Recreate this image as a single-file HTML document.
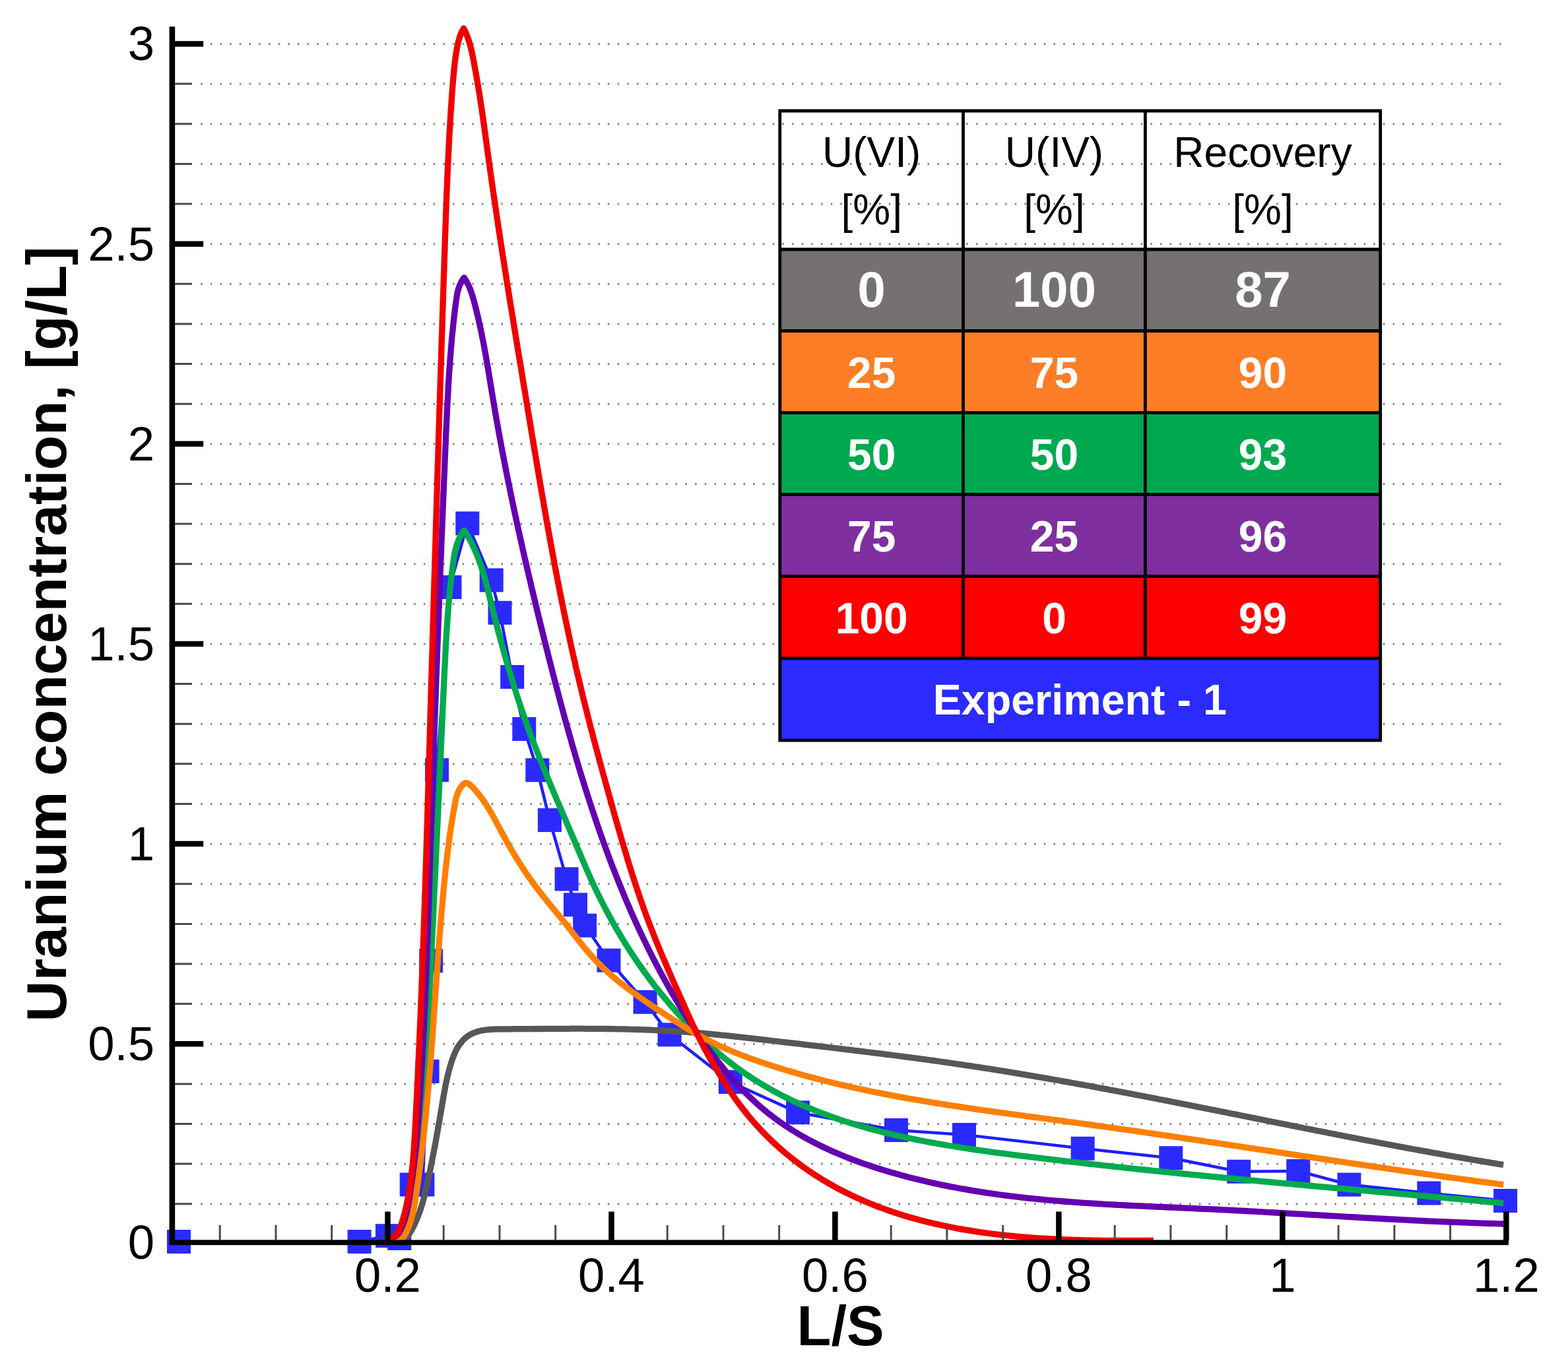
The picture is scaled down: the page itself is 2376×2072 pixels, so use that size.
<!DOCTYPE html>
<html><head><meta charset="utf-8"><title>Uranium concentration vs L/S</title>
<style>html,body{margin:0;padding:0;background:#fff;}body{width:2376px;height:2072px;overflow:hidden;}svg{display:block;}text{font-family:"Liberation Sans",Arial,sans-serif;}</style>
</head><body>
<svg xmlns="http://www.w3.org/2000/svg" width="2376" height="2072" viewBox="0 0 2376 2072">
<rect width="2376" height="2072" fill="#fff"/>
<path d="M304.1 1824.8H2274.5M304.1 1764.1H2274.5M304.1 1703.5H2274.5M304.1 1642.9H2274.5M304.1 1582.2H2274.5M304.1 1521.6H2274.5M304.1 1461H2274.5M304.1 1400.4H2274.5M304.1 1339.7H2274.5M304.1 1279.1H2274.5M304.1 1218.5H2274.5M304.1 1157.8H2274.5M304.1 1097.2H2274.5M304.1 1036.6H2274.5M304.1 976H2274.5M304.1 915.3H2274.5M304.1 854.7H2274.5M304.1 794.1H2274.5M304.1 733.4H2274.5M304.1 672.8H2274.5M304.1 612.2H2274.5M304.1 551.5H2274.5M304.1 490.9H2274.5M304.1 430.3H2274.5M304.1 369.7H2274.5M304.1 309H2274.5M304.1 248.4H2274.5M304.1 187.8H2274.5M304.1 127.1H2274.5M304.1 66.5H2274.5" stroke="#858585" stroke-width="3" stroke-dasharray="2.6 12.0860" fill="none"/>
<rect x="1181.8" y="378" width="909.9" height="123.5" fill="#767171"/>
<rect x="1181.8" y="501.5" width="909.9" height="124.1" fill="#fd7e26"/>
<rect x="1181.8" y="625.6" width="909.9" height="123.7" fill="#00a94f"/>
<rect x="1181.8" y="749.3" width="909.9" height="124" fill="#7f2fa0"/>
<rect x="1181.8" y="873.3" width="909.9" height="124.5" fill="#ff0000"/>
<rect x="1181.8" y="997.8" width="909.9" height="124.4" fill="#2b2bff"/>
<path d="M1179.8 168H2093.7M1179.8 378H2093.7M1179.8 501.5H2093.7M1179.8 625.6H2093.7M1179.8 749.3H2093.7M1179.8 873.3H2093.7M1179.8 997.8H2093.7M1179.8 1122.2H2093.7M1181.8 166V1124.2M1459.5 168V997.8M1735.4 168V997.8M2091.7 166V1124.2" stroke="#000" stroke-width="4.8" fill="none"/>
<text x="1320.7" y="253.4" font-size="64" text-anchor="middle" fill="#000">U(VI)</text>
<text x="1320.7" y="339.6" font-size="64" text-anchor="middle" fill="#000">[%]</text>
<text x="1597.5" y="253.4" font-size="64" text-anchor="middle" fill="#000">U(IV)</text>
<text x="1597.5" y="339.6" font-size="64" text-anchor="middle" fill="#000">[%]</text>
<text x="1913.5" y="253.4" font-size="64" text-anchor="middle" fill="#000">Recovery</text>
<text x="1913.5" y="339.6" font-size="64" text-anchor="middle" fill="#000">[%]</text>
<text x="1320.7" y="465" font-size="76" font-weight="bold" text-anchor="middle" fill="#fff">0</text>
<text x="1597.5" y="465" font-size="76" font-weight="bold" text-anchor="middle" fill="#fff">100</text>
<text x="1913.5" y="465" font-size="76" font-weight="bold" text-anchor="middle" fill="#fff">87</text>
<text x="1320.7" y="588.4" font-size="66" font-weight="bold" text-anchor="middle" fill="#fff">25</text>
<text x="1597.5" y="588.4" font-size="66" font-weight="bold" text-anchor="middle" fill="#fff">75</text>
<text x="1913.5" y="588.4" font-size="66" font-weight="bold" text-anchor="middle" fill="#fff">90</text>
<text x="1320.7" y="712.3" font-size="66" font-weight="bold" text-anchor="middle" fill="#fff">50</text>
<text x="1597.5" y="712.3" font-size="66" font-weight="bold" text-anchor="middle" fill="#fff">50</text>
<text x="1913.5" y="712.3" font-size="66" font-weight="bold" text-anchor="middle" fill="#fff">93</text>
<text x="1320.7" y="836.1" font-size="66" font-weight="bold" text-anchor="middle" fill="#fff">75</text>
<text x="1597.5" y="836.1" font-size="66" font-weight="bold" text-anchor="middle" fill="#fff">25</text>
<text x="1913.5" y="836.1" font-size="66" font-weight="bold" text-anchor="middle" fill="#fff">96</text>
<text x="1320.7" y="960.4" font-size="66" font-weight="bold" text-anchor="middle" fill="#fff">100</text>
<text x="1597.5" y="960.4" font-size="66" font-weight="bold" text-anchor="middle" fill="#fff">0</text>
<text x="1913.5" y="960.4" font-size="66" font-weight="bold" text-anchor="middle" fill="#fff">99</text>
<text x="1636.3" y="1083.3" font-size="64.6" font-weight="bold" text-anchor="middle" fill="#fff">Experiment - 1</text>
<path d="M271 1882 L544.6 1882 L587 1873.2 L605.2 1877 L623.7 1795.5 L640.4 1795.5 L647.6 1623.9 L653.2 1456.3 L662.1 1167.2 L681.5 890 L708.3 793.3 L744.7 879.4 L757.5 928.8 L776.2 1026 L794.3 1105 L814.3 1167.3 L832.9 1243.1 L858.6 1332.4 L872 1371.3 L886.2 1402.8 L922.5 1455.7 L977.6 1518.8 L1014.6 1568.3 L1106.8 1640 L1209.1 1686.3 L1358 1713 L1461 1720 L1640.7 1740.8 L1774.3 1755.2 L1877.2 1775.8 L1967.3 1775 L2044.4 1795.6 L2165.3 1808.5 L2281.1 1820" stroke="#1e1eff" stroke-width="4.6" fill="none" stroke-linejoin="round"/>
<g fill="#2a2aff">
<rect x="253" y="1864" width="36" height="36"/>
<rect x="526.6" y="1864" width="36" height="36"/>
<rect x="569" y="1855.2" width="36" height="36"/>
<rect x="587.2" y="1859" width="36" height="36"/>
<rect x="605.7" y="1777.5" width="36" height="36"/>
<rect x="622.4" y="1777.5" width="36" height="36"/>
<rect x="629.6" y="1605.9" width="36" height="36"/>
<rect x="635.2" y="1438.3" width="36" height="36"/>
<rect x="644.1" y="1149.2" width="36" height="36"/>
<rect x="663.5" y="872" width="36" height="36"/>
<rect x="690.3" y="775.3" width="36" height="36"/>
<rect x="726.7" y="861.4" width="36" height="36"/>
<rect x="739.5" y="910.8" width="36" height="36"/>
<rect x="758.2" y="1008" width="36" height="36"/>
<rect x="776.3" y="1087" width="36" height="36"/>
<rect x="796.3" y="1149.3" width="36" height="36"/>
<rect x="814.9" y="1225.1" width="36" height="36"/>
<rect x="840.6" y="1314.4" width="36" height="36"/>
<rect x="854" y="1353.3" width="36" height="36"/>
<rect x="868.2" y="1384.8" width="36" height="36"/>
<rect x="904.5" y="1437.7" width="36" height="36"/>
<rect x="959.6" y="1500.8" width="36" height="36"/>
<rect x="996.6" y="1550.3" width="36" height="36"/>
<rect x="1088.8" y="1622" width="36" height="36"/>
<rect x="1191.1" y="1668.3" width="36" height="36"/>
<rect x="1340" y="1695" width="36" height="36"/>
<rect x="1443" y="1702" width="36" height="36"/>
<rect x="1622.7" y="1722.8" width="36" height="36"/>
<rect x="1756.3" y="1737.2" width="36" height="36"/>
<rect x="1859.2" y="1757.8" width="36" height="36"/>
<rect x="1949.3" y="1757" width="36" height="36"/>
<rect x="2026.4" y="1777.6" width="36" height="36"/>
<rect x="2147.3" y="1790.5" width="36" height="36"/>
<rect x="2263.1" y="1802" width="36" height="36"/>
</g>
<defs><clipPath id="pc"><rect x="0" y="0" width="2376" height="1885"/></clipPath></defs>
<g clip-path="url(#pc)">
<path d="M592 1884.5 L597.1 1884.7 L601.7 1884.1 L605.9 1882.8 L609.6 1880.8 L613 1878.4 L616 1875.4 L618.8 1872.1 L621.3 1868.5 L623.6 1864.7 L625.7 1860.7 L627.7 1856.6 L629.6 1852.6 L631.4 1848.4 L633.1 1844.3 L634.7 1840 L636.3 1835.8 L637.7 1831.5 L639.1 1827.2 L640.3 1822.9 L641.6 1818.5 L642.7 1814.1 L643.9 1809.7 L644.9 1805.3 L646 1800.9 L647 1796.5 L647.9 1792 L648.9 1787.6 L649.8 1783.2 L650.7 1778.7 L651.7 1774.3 L652.6 1769.9 L653.4 1765.5 L654.3 1761.1 L655.2 1756.6 L656 1752.2 L656.9 1747.8 L657.7 1743.4 L658.6 1739 L659.4 1734.6 L660.2 1730.2 L661 1725.7 L661.8 1721.3 L662.6 1716.9 L663.4 1712.5 L664.1 1708.1 L664.9 1703.7 L665.7 1699.3 L666.4 1694.9 L667.2 1690.5 L668 1686.1 L668.7 1681.7 L669.5 1677.3 L670.2 1672.8 L671 1668.4 L671.7 1664 L672.5 1659.6 L673.3 1655.2 L674.1 1650.8 L674.9 1646.4 L675.8 1641.9 L676.8 1637.5 L677.7 1633.1 L678.8 1628.7 L679.9 1624.3 L681.1 1619.9 L682.3 1615.5 L683.7 1611.1 L685.1 1606.7 L686.7 1602.3 L688.4 1598 L690.2 1593.8 L692.2 1589.7 L694.5 1585.8 L697 1582.1 L699.8 1578.6 L702.8 1575.4 L706 1572.6 L709.4 1570 L713 1567.9 L716.8 1566 L720.7 1564.5 L724.8 1563.2 L729 1562.2 L733.3 1561.5 L737.6 1560.9 L742.1 1560.5 L746.6 1560.2 L751.2 1560 L755.8 1559.9 L760.4 1559.8 L765 1559.8 L769.6 1559.8 L774.2 1559.8 L778.8 1559.7 L783.4 1559.7 L788 1559.7 L792.6 1559.6 L797.2 1559.6 L801.8 1559.6 L806.4 1559.6 L810.9 1559.5 L815.5 1559.5 L820 1559.5 L824.6 1559.4 L829.1 1559.4 L833.7 1559.4 L838.2 1559.3 L842.7 1559.3 L847.3 1559.3 L851.8 1559.3 L856.3 1559.3 L860.8 1559.3 L865.3 1559.2 L869.8 1559.2 L874.4 1559.2 L878.9 1559.2 L883.4 1559.2 L887.9 1559.3 L892.3 1559.3 L896.8 1559.3 L901.3 1559.3 L905.8 1559.4 L910.3 1559.4 L914.8 1559.4 L919.2 1559.5 L923.7 1559.5 L928.2 1559.6 L932.7 1559.7 L937.1 1559.8 L941.6 1559.8 L946.1 1559.9 L950.6 1560 L955 1560.2 L959.5 1560.3 L964 1560.4 L968.4 1560.5 L972.9 1560.7 L977.4 1560.8 L981.8 1561 L986.3 1561.2 L990.8 1561.4 L995.2 1561.6 L999.7 1561.8 L1004.2 1562 L1008.6 1562.2 L1013.1 1562.5 L1017.6 1562.7 L1022 1563 L1026.5 1563.3 L1031 1563.6 L1035.5 1563.9 L1039.9 1564.2 L1044.4 1564.5 L1048.9 1564.9 L1053.4 1565.2 L1057.9 1565.6 L1062.3 1566 L1066.8 1566.4 L1071.3 1566.8 L1075.8 1567.2 L1080.3 1567.6 L1084.8 1568.1 L1089.3 1568.5 L1093.8 1569 L1098.3 1569.4 L1102.8 1569.9 L1107.3 1570.4 L1111.8 1570.8 L1116.3 1571.3 L1120.7 1571.8 L1125.2 1572.3 L1129.7 1572.8 L1134.2 1573.3 L1138.7 1573.8 L1143.2 1574.3 L1147.7 1574.9 L1152.2 1575.4 L1156.7 1575.9 L1161.2 1576.4 L1165.7 1577 L1170.2 1577.5 L1174.7 1578 L1179.2 1578.5 L1183.6 1579.1 L1188.1 1579.6 L1192.6 1580.1 L1197.1 1580.6 L1201.6 1581.2 L1206.1 1581.7 L1210.5 1582.2 L1215 1582.7 L1219.5 1583.3 L1224 1583.8 L1228.4 1584.3 L1232.9 1584.8 L1237.4 1585.4 L1241.9 1585.9 L1246.3 1586.4 L1250.8 1586.9 L1255.3 1587.5 L1259.7 1588 L1264.2 1588.5 L1268.7 1589.1 L1273.1 1589.6 L1277.6 1590.1 L1282 1590.7 L1286.5 1591.2 L1291 1591.7 L1295.4 1592.3 L1299.9 1592.8 L1304.3 1593.4 L1308.8 1593.9 L1313.3 1594.5 L1317.7 1595 L1322.2 1595.6 L1326.6 1596.1 L1331.1 1596.7 L1335.5 1597.2 L1340 1597.8 L1344.4 1598.3 L1348.9 1598.9 L1353.3 1599.5 L1357.8 1600 L1362.2 1600.6 L1366.7 1601.2 L1371.1 1601.8 L1375.6 1602.4 L1380 1602.9 L1384.4 1603.5 L1388.9 1604.1 L1393.3 1604.7 L1397.8 1605.3 L1402.2 1605.9 L1406.7 1606.5 L1411.1 1607.1 L1415.5 1607.7 L1420 1608.4 L1424.4 1609 L1428.9 1609.6 L1433.3 1610.2 L1437.7 1610.9 L1442.2 1611.5 L1446.6 1612.1 L1451 1612.8 L1455.5 1613.4 L1459.9 1614.1 L1464.3 1614.8 L1468.8 1615.4 L1473.2 1616.1 L1477.6 1616.8 L1482.1 1617.4 L1486.5 1618.1 L1491 1618.8 L1495.4 1619.5 L1499.8 1620.2 L1504.2 1620.9 L1508.7 1621.6 L1513.1 1622.3 L1517.5 1623 L1522 1623.7 L1526.4 1624.4 L1530.8 1625.2 L1535.3 1625.9 L1539.7 1626.6 L1544.1 1627.4 L1548.6 1628.1 L1553 1628.8 L1557.4 1629.6 L1561.8 1630.3 L1566.3 1631.1 L1570.7 1631.8 L1575.1 1632.6 L1579.6 1633.4 L1584 1634.1 L1588.4 1634.9 L1592.8 1635.7 L1597.3 1636.5 L1601.7 1637.2 L1606.1 1638 L1610.5 1638.8 L1615 1639.6 L1619.4 1640.4 L1623.8 1641.2 L1628.2 1642 L1632.7 1642.8 L1637.1 1643.6 L1641.5 1644.4 L1645.9 1645.2 L1650.4 1646 L1654.8 1646.8 L1659.2 1647.6 L1663.6 1648.5 L1668.1 1649.3 L1672.5 1650.1 L1676.9 1650.9 L1681.3 1651.8 L1685.8 1652.6 L1690.2 1653.4 L1694.6 1654.3 L1699 1655.1 L1703.4 1655.9 L1707.9 1656.8 L1712.3 1657.6 L1716.7 1658.5 L1721.1 1659.3 L1725.6 1660.2 L1730 1661 L1734.4 1661.9 L1738.8 1662.7 L1743.2 1663.6 L1747.7 1664.4 L1752.1 1665.3 L1756.5 1666.2 L1760.9 1667 L1765.3 1667.9 L1769.8 1668.7 L1774.2 1669.6 L1778.6 1670.5 L1783 1671.4 L1787.4 1672.2 L1791.9 1673.1 L1796.3 1674 L1800.7 1674.8 L1805.1 1675.7 L1809.5 1676.6 L1813.9 1677.5 L1818.4 1678.4 L1822.8 1679.2 L1827.2 1680.1 L1831.6 1681 L1836 1681.9 L1840.5 1682.8 L1844.9 1683.6 L1849.3 1684.5 L1853.7 1685.4 L1858.1 1686.3 L1862.6 1687.2 L1867 1688.1 L1871.4 1688.9 L1875.8 1689.8 L1880.2 1690.7 L1884.6 1691.6 L1889.1 1692.5 L1893.5 1693.4 L1897.9 1694.3 L1902.3 1695.1 L1906.7 1696 L1911.2 1696.9 L1915.6 1697.8 L1920 1698.7 L1924.4 1699.6 L1928.8 1700.5 L1933.2 1701.3 L1937.7 1702.2 L1942.1 1703.1 L1946.5 1704 L1950.9 1704.9 L1955.3 1705.8 L1959.8 1706.6 L1964.2 1707.5 L1968.6 1708.4 L1973 1709.3 L1977.4 1710.2 L1981.8 1711 L1986.3 1711.9 L1990.7 1712.8 L1995.1 1713.7 L1999.5 1714.5 L2003.9 1715.4 L2008.4 1716.3 L2012.8 1717.2 L2017.2 1718 L2021.6 1718.9 L2026 1719.8 L2030.5 1720.6 L2034.9 1721.5 L2039.3 1722.4 L2043.7 1723.2 L2048.1 1724.1 L2052.6 1724.9 L2057 1725.8 L2061.4 1726.6 L2065.8 1727.5 L2070.2 1728.3 L2074.7 1729.2 L2079.1 1730 L2083.5 1730.9 L2087.9 1731.7 L2092.3 1732.6 L2096.8 1733.4 L2101.2 1734.3 L2105.6 1735.1 L2110 1735.9 L2114.5 1736.8 L2118.9 1737.6 L2123.3 1738.4 L2127.7 1739.2 L2132.1 1740.1 L2136.6 1740.9 L2141 1741.7 L2145.4 1742.5 L2149.8 1743.3 L2154.3 1744.1 L2158.7 1744.9 L2163.1 1745.7 L2167.5 1746.5 L2172 1747.3 L2176.4 1748.1 L2180.8 1748.9 L2185.2 1749.7 L2189.6 1750.5 L2194.1 1751.3 L2198.5 1752.1 L2202.9 1752.8 L2207.4 1753.6 L2211.8 1754.4 L2216.2 1755.1 L2220.6 1755.9 L2225.1 1756.7 L2229.5 1757.4 L2233.9 1758.2 L2238.3 1758.9 L2242.8 1759.7 L2247.2 1760.4 L2251.6 1761.1 L2256.1 1761.9 L2260.5 1762.6 L2264.9 1763.3 L2269.3 1764.1 L2273.8 1764.8 L2278.2 1765.5" stroke="#575757" stroke-width="9.3" fill="none" stroke-linejoin="round" stroke-linecap="butt"/>
<path d="M583 1884.5 L589.3 1884.1 L594.9 1882.5 L599.8 1879.8 L604.1 1876.3 L607.9 1872.2 L611.2 1867.8 L614.1 1863 L616.6 1858.1 L618.7 1853 L620.6 1847.7 L622.1 1842.2 L623.4 1836.6 L624.6 1830.9 L625.5 1825.1 L626.4 1819.3 L627.2 1813.5 L628 1807.6 L628.7 1801.7 L629.4 1795.9 L630.1 1790 L630.8 1784.2 L631.5 1778.4 L632.1 1772.5 L632.8 1766.7 L633.4 1760.9 L634 1755.1 L634.6 1749.3 L635.2 1743.5 L635.8 1737.6 L636.3 1731.8 L636.8 1726 L637.4 1720.2 L637.9 1714.5 L638.4 1708.7 L638.9 1702.9 L639.3 1697.1 L639.8 1691.3 L640.2 1685.5 L640.7 1679.7 L641.1 1674 L641.5 1668.2 L642 1662.4 L642.4 1656.7 L642.7 1650.9 L643.1 1645.1 L643.5 1639.4 L643.9 1633.6 L644.2 1627.8 L644.6 1622.1 L644.9 1616.3 L645.3 1610.5 L645.6 1604.8 L645.9 1599 L646.3 1593.3 L646.6 1587.5 L646.9 1581.7 L647.2 1576 L647.5 1570.2 L647.8 1564.5 L648.1 1558.7 L648.4 1553 L648.7 1547.2 L649 1541.4 L649.3 1535.7 L649.6 1529.9 L649.8 1524.1 L650.1 1518.4 L650.4 1512.6 L650.7 1506.8 L651 1501.1 L651.3 1495.3 L651.5 1489.5 L651.8 1483.7 L652.1 1478 L652.4 1472.2 L652.7 1466.4 L652.9 1460.6 L653.2 1454.9 L653.5 1449.1 L653.8 1443.3 L654.1 1437.5 L654.3 1431.7 L654.6 1425.9 L654.9 1420.2 L655.2 1414.4 L655.5 1408.6 L655.7 1402.8 L656 1397 L656.3 1391.2 L656.6 1385.4 L656.8 1379.6 L657.1 1373.8 L657.4 1368 L657.6 1362.3 L657.9 1356.5 L658.2 1350.7 L658.5 1344.9 L658.7 1339.1 L659 1333.3 L659.3 1327.5 L659.6 1321.7 L659.8 1315.9 L660.1 1310.1 L660.4 1304.3 L660.6 1298.5 L660.9 1292.7 L661.2 1286.9 L661.4 1281.1 L661.7 1275.3 L662 1269.5 L662.3 1263.7 L662.5 1257.9 L662.8 1252.1 L663.1 1246.3 L663.3 1240.5 L663.6 1234.7 L663.9 1228.9 L664.1 1223.1 L664.4 1217.3 L664.7 1211.5 L664.9 1205.7 L665.2 1199.9 L665.5 1194.1 L665.7 1188.3 L666 1182.5 L666.3 1176.7 L666.5 1170.9 L666.8 1165.1 L667.1 1159.3 L667.3 1153.5 L667.6 1147.7 L667.9 1141.9 L668.1 1136.1 L668.4 1130.3 L668.7 1124.5 L668.9 1118.7 L669.2 1112.9 L669.5 1107.1 L669.7 1101.3 L670 1095.6 L670.2 1089.8 L670.5 1084 L670.8 1078.2 L671 1072.4 L671.3 1066.6 L671.6 1060.8 L671.8 1055 L672.1 1049.3 L672.4 1043.5 L672.6 1037.7 L672.9 1031.9 L673.2 1026.1 L673.4 1020.3 L673.7 1014.6 L674 1008.8 L674.3 1003 L674.6 997.2 L674.9 991.5 L675.2 985.7 L675.5 979.9 L675.8 974.1 L676.1 968.4 L676.5 962.6 L676.8 956.8 L677.2 951.1 L677.6 945.3 L678 939.5 L678.4 933.8 L678.8 928 L679.3 922.2 L679.8 916.4 L680.3 910.7 L680.8 904.9 L681.3 899.1 L681.9 893.4 L682.5 887.6 L683.1 881.9 L683.8 876.1 L684.4 870.3 L685.2 864.6 L685.9 858.8 L686.7 853 L687.5 847.3 L688.4 841.5 L689.5 835.8 L690.8 830.2 L692.5 824.7 L694.5 819.3 L696.9 814 L699.8 808.9 L703.3 804 L706.7 809.2 L709.9 814.6 L712.9 820 L715.8 825.5 L718.4 831 L720.9 836.6 L723.2 842.3 L725.4 848 L727.5 853.8 L729.4 859.6 L731.3 865.5 L733.1 871.4 L734.8 877.3 L736.4 883.2 L738 889.2 L739.5 895.2 L741 901.2 L742.5 907.2 L743.9 913.2 L745.4 919.2 L746.9 925.2 L748.4 931.2 L750 937.2 L751.5 943.2 L753.1 949.2 L754.6 955.2 L756.2 961.2 L757.8 967.1 L759.4 973.1 L761.1 979.1 L762.7 985 L764.4 991 L766 996.9 L767.7 1002.9 L769.5 1008.8 L771.2 1014.7 L773 1020.6 L774.7 1026.6 L776.6 1032.5 L778.4 1038.4 L780.2 1044.3 L782.1 1050.1 L784 1056 L785.9 1061.9 L787.8 1067.8 L789.8 1073.6 L791.8 1079.4 L793.8 1085.3 L795.9 1091.1 L797.9 1096.9 L800 1102.7 L802.1 1108.5 L804.3 1114.3 L806.5 1120.1 L808.7 1125.8 L810.9 1131.6 L813.1 1137.4 L815.4 1143.1 L817.6 1148.8 L819.9 1154.6 L822.2 1160.3 L824.6 1166 L826.9 1171.7 L829.3 1177.5 L831.6 1183.2 L834 1188.9 L836.4 1194.6 L838.8 1200.3 L841.2 1206 L843.6 1211.7 L846.1 1217.3 L848.5 1223 L850.9 1228.7 L853.3 1234.4 L855.8 1240.1 L858.2 1245.8 L860.7 1251.5 L863.1 1257.2 L865.5 1262.9 L868 1268.6 L870.4 1274.3 L872.8 1280 L875.2 1285.7 L877.6 1291.4 L880.1 1297.1 L882.5 1302.8 L884.9 1308.5 L887.4 1314.1 L889.9 1319.8 L892.4 1325.5 L894.9 1331.1 L897.4 1336.7 L900 1342.3 L902.7 1347.9 L905.3 1353.5 L908.1 1359 L910.8 1364.5 L913.6 1370 L916.4 1375.5 L919.3 1381 L922.2 1386.4 L925.2 1391.8 L928.1 1397.2 L931.2 1402.5 L934.2 1407.9 L937.3 1413.2 L940.5 1418.5 L943.7 1423.8 L946.9 1429 L950.2 1434.2 L953.5 1439.4 L956.8 1444.6 L960.2 1449.7 L963.7 1454.8 L967.1 1459.9 L970.7 1465 L974.2 1470 L977.8 1475 L981.5 1480 L985.1 1484.9 L988.9 1489.9 L992.6 1494.8 L996.4 1499.6 L1000.3 1504.5 L1004.2 1509.3 L1008.1 1514.1 L1012.1 1518.8 L1016.1 1523.5 L1020.1 1528.2 L1024.3 1532.9 L1028.4 1537.5 L1032.6 1542.1 L1036.8 1546.7 L1041.1 1551.2 L1045.4 1555.7 L1049.8 1560.2 L1054.2 1564.6 L1058.6 1569 L1063.1 1573.3 L1067.6 1577.5 L1072.2 1581.8 L1076.8 1585.9 L1081.4 1590.1 L1086.1 1594.1 L1090.8 1598.1 L1095.6 1602.1 L1100.4 1605.9 L1105.2 1609.8 L1110.1 1613.5 L1115 1617.2 L1120 1620.8 L1125 1624.4 L1130 1627.8 L1135.1 1631.2 L1140.2 1634.6 L1145.3 1637.9 L1150.5 1641.1 L1155.7 1644.2 L1160.9 1647.3 L1166.2 1650.3 L1171.5 1653.3 L1176.9 1656.2 L1182.2 1659 L1187.6 1661.8 L1193.1 1664.5 L1198.5 1667.1 L1204 1669.8 L1209.6 1672.3 L1215.1 1674.8 L1220.7 1677.2 L1226.3 1679.6 L1231.9 1681.9 L1237.6 1684.2 L1243.3 1686.4 L1249 1688.6 L1254.7 1690.7 L1260.5 1692.8 L1266.3 1694.9 L1272.1 1696.8 L1277.9 1698.8 L1283.7 1700.7 L1289.6 1702.5 L1295.5 1704.3 L1301.4 1706.1 L1307.3 1707.8 L1313.3 1709.5 L1319.3 1711.2 L1325.2 1712.8 L1331.2 1714.3 L1337.2 1715.9 L1343.3 1717.4 L1349.3 1718.8 L1355.4 1720.2 L1361.5 1721.6 L1367.5 1723 L1373.6 1724.3 L1379.8 1725.6 L1385.9 1726.9 L1392 1728.1 L1398.2 1729.3 L1404.3 1730.5 L1410.5 1731.6 L1416.7 1732.8 L1422.8 1733.9 L1429 1734.9 L1435.2 1736 L1441.4 1737 L1447.6 1738 L1453.9 1739 L1460.1 1740 L1466.3 1740.9 L1472.5 1741.9 L1478.8 1742.8 L1485 1743.7 L1491.2 1744.5 L1497.5 1745.4 L1503.7 1746.3 L1509.9 1747.1 L1516.2 1747.9 L1522.4 1748.7 L1528.6 1749.5 L1534.9 1750.3 L1541.1 1751.1 L1547.3 1751.9 L1553.6 1752.7 L1559.8 1753.4 L1566 1754.2 L1572.2 1754.9 L1578.4 1755.7 L1584.6 1756.4 L1590.8 1757.2 L1597 1757.9 L1603.2 1758.6 L1609.4 1759.3 L1615.5 1760.1 L1621.7 1760.8 L1627.9 1761.5 L1634 1762.2 L1640.2 1762.9 L1646.4 1763.6 L1652.5 1764.3 L1658.7 1765 L1664.8 1765.6 L1671 1766.3 L1677.1 1767 L1683.2 1767.7 L1689.4 1768.3 L1695.5 1769 L1701.6 1769.7 L1707.7 1770.3 L1713.9 1771 L1720 1771.6 L1726.1 1772.3 L1732.2 1772.9 L1738.3 1773.5 L1744.4 1774.2 L1750.5 1774.8 L1756.6 1775.4 L1762.7 1776.1 L1768.8 1776.7 L1774.9 1777.3 L1781 1777.9 L1787.1 1778.5 L1793.2 1779.1 L1799.3 1779.7 L1805.4 1780.3 L1811.5 1780.9 L1817.6 1781.5 L1823.7 1782.1 L1829.8 1782.7 L1835.9 1783.3 L1841.9 1783.9 L1848 1784.5 L1854.1 1785.1 L1860.2 1785.7 L1866.3 1786.2 L1872.4 1786.8 L1878.5 1787.4 L1884.5 1788 L1890.6 1788.5 L1896.7 1789.1 L1902.8 1789.7 L1908.9 1790.3 L1915 1790.8 L1921 1791.4 L1927.1 1792 L1933.2 1792.5 L1939.3 1793.1 L1945.4 1793.6 L1951.5 1794.2 L1957.6 1794.7 L1963.7 1795.3 L1969.8 1795.9 L1975.8 1796.4 L1981.9 1797 L1988 1797.5 L1994.1 1798.1 L2000.2 1798.6 L2006.3 1799.2 L2012.4 1799.7 L2018.6 1800.3 L2024.7 1800.8 L2030.8 1801.4 L2036.9 1801.9 L2043 1802.5 L2049.1 1803 L2055.2 1803.6 L2061.4 1804.1 L2067.5 1804.7 L2073.6 1805.2 L2079.8 1805.8 L2085.9 1806.3 L2092 1806.9 L2098.2 1807.4 L2104.3 1808 L2110.5 1808.5 L2116.6 1809.1 L2122.8 1809.6 L2128.9 1810.2 L2135.1 1810.7 L2141.3 1811.3 L2147.5 1811.8 L2153.6 1812.4 L2159.8 1812.9 L2166 1813.5 L2172.2 1814.1 L2178.4 1814.6 L2184.6 1815.2 L2190.8 1815.7 L2197 1816.3 L2203.2 1816.9 L2209.4 1817.4 L2215.7 1818 L2221.9 1818.6 L2228.1 1819.1 L2234.4 1819.7 L2240.6 1820.3 L2246.9 1820.9 L2253.1 1821.5 L2259.4 1822 L2265.6 1822.6 L2271.9 1823.2 L2278.2 1823.8" stroke="#00aa4e" stroke-width="9.3" fill="none" stroke-linejoin="round" stroke-linecap="butt"/>
<path d="M578 1884.5 L584.9 1883.8 L590.9 1881.9 L596.2 1878.8 L600.8 1874.7 L604.7 1869.9 L608.2 1864.6 L611.1 1858.9 L613.7 1853.1 L615.9 1847.1 L617.8 1841 L619.5 1834.8 L620.9 1828.6 L622.1 1822.3 L623.1 1815.9 L623.9 1809.5 L624.7 1803.1 L625.4 1796.7 L626 1790.2 L626.6 1783.7 L627.2 1777.3 L627.8 1770.8 L628.4 1764.4 L629 1757.9 L629.5 1751.5 L630.1 1745 L630.6 1738.5 L631.2 1732.1 L631.7 1725.6 L632.2 1719.2 L632.7 1712.7 L633.2 1706.3 L633.7 1699.8 L634.2 1693.4 L634.6 1686.9 L635.1 1680.5 L635.5 1674 L636 1667.6 L636.4 1661.1 L636.8 1654.7 L637.2 1648.2 L637.6 1641.8 L638 1635.3 L638.4 1628.9 L638.8 1622.4 L639.2 1616 L639.6 1609.5 L639.9 1603.1 L640.3 1596.7 L640.6 1590.2 L641 1583.8 L641.3 1577.3 L641.6 1570.9 L642 1564.4 L642.3 1558 L642.6 1551.6 L642.9 1545.1 L643.2 1538.7 L643.5 1532.2 L643.8 1525.8 L644.1 1519.4 L644.3 1512.9 L644.6 1506.5 L644.9 1500 L645.2 1493.6 L645.4 1487.2 L645.7 1480.7 L645.9 1474.3 L646.2 1467.8 L646.4 1461.4 L646.7 1455 L646.9 1448.5 L647.1 1442.1 L647.4 1435.6 L647.6 1429.2 L647.8 1422.8 L648.1 1416.3 L648.3 1409.9 L648.5 1403.4 L648.7 1397 L648.9 1390.6 L649.1 1384.1 L649.4 1377.7 L649.6 1371.3 L649.8 1364.8 L650 1358.4 L650.2 1351.9 L650.4 1345.5 L650.6 1339.1 L650.8 1332.6 L651 1326.2 L651.2 1319.7 L651.4 1313.3 L651.6 1306.9 L651.8 1300.4 L652 1294 L652.2 1287.5 L652.4 1281.1 L652.6 1274.7 L652.8 1268.2 L653 1261.8 L653.3 1255.3 L653.5 1248.9 L653.7 1242.4 L653.9 1236 L654.1 1229.6 L654.3 1223.1 L654.5 1216.7 L654.7 1210.2 L654.9 1203.8 L655.2 1197.3 L655.4 1190.9 L655.6 1184.4 L655.8 1178 L656 1171.6 L656.2 1165.1 L656.5 1158.7 L656.7 1152.2 L656.9 1145.8 L657.1 1139.3 L657.4 1132.9 L657.6 1126.4 L657.8 1120 L658 1113.5 L658.2 1107.1 L658.5 1100.6 L658.7 1094.2 L658.9 1087.7 L659.2 1081.3 L659.4 1074.9 L659.6 1068.4 L659.9 1062 L660.1 1055.5 L660.3 1049.1 L660.5 1042.6 L660.8 1036.2 L661 1029.7 L661.3 1023.3 L661.5 1016.8 L661.7 1010.4 L662 1003.9 L662.2 997.5 L662.4 991 L662.7 984.6 L662.9 978.1 L663.2 971.7 L663.4 965.2 L663.7 958.8 L663.9 952.3 L664.1 945.9 L664.4 939.4 L664.6 933 L664.9 926.5 L665.1 920.1 L665.4 913.6 L665.6 907.2 L665.9 900.7 L666.1 894.3 L666.4 887.8 L666.6 881.4 L666.9 874.9 L667.1 868.5 L667.4 862.1 L667.6 855.6 L667.9 849.2 L668.2 842.7 L668.4 836.3 L668.7 829.8 L668.9 823.4 L669.2 816.9 L669.5 810.5 L669.7 804 L670 797.6 L670.2 791.1 L670.5 784.7 L670.8 778.2 L671 771.8 L671.3 765.3 L671.6 758.9 L671.8 752.4 L672.1 746 L672.4 739.5 L672.6 733.1 L672.9 726.6 L673.2 720.2 L673.5 713.8 L673.7 707.3 L674 700.9 L674.3 694.4 L674.5 688 L674.8 681.5 L675.1 675.1 L675.4 668.6 L675.6 662.2 L675.9 655.7 L676.2 649.3 L676.5 642.9 L676.8 636.4 L677.1 630 L677.4 623.5 L677.7 617.1 L678 610.7 L678.4 604.2 L678.7 597.8 L679.1 591.3 L679.4 584.9 L679.8 578.5 L680.2 572 L680.6 565.6 L681.1 559.2 L681.5 552.7 L682 546.3 L682.5 539.9 L683 533.5 L683.5 527 L684.1 520.6 L684.6 514.2 L685.2 507.8 L685.9 501.4 L686.5 494.9 L687.2 488.5 L687.9 482.1 L688.6 475.7 L689.4 469.3 L690.2 462.9 L691.1 456.5 L692 450.1 L693.1 443.8 L694.7 437.7 L696.8 431.8 L699.6 426.1 L703.2 420.8 L706.6 426.1 L709.6 431.7 L712.1 437.4 L714.3 443.3 L716.2 449.4 L718 455.5 L719.6 461.7 L721.2 467.9 L722.7 474.1 L724.2 480.3 L725.6 486.6 L727 492.8 L728.4 499.1 L729.7 505.4 L730.9 511.6 L732.2 517.9 L733.4 524.2 L734.5 530.6 L735.7 536.9 L736.8 543.2 L737.9 549.5 L739 555.9 L740.1 562.2 L741.1 568.6 L742.2 574.9 L743.2 581.3 L744.2 587.6 L745.3 594 L746.3 600.3 L747.4 606.7 L748.5 613 L749.5 619.4 L750.6 625.7 L751.7 632 L752.8 638.4 L754 644.7 L755.1 651 L756.2 657.3 L757.4 663.7 L758.6 670 L759.7 676.3 L760.9 682.6 L762.1 688.9 L763.3 695.2 L764.6 701.5 L765.8 707.8 L767 714.1 L768.3 720.4 L769.5 726.7 L770.8 733 L772.1 739.3 L773.4 745.6 L774.7 751.9 L776 758.2 L777.3 764.4 L778.6 770.7 L780 777 L781.3 783.3 L782.7 789.6 L784 795.8 L785.4 802.1 L786.8 808.4 L788.2 814.6 L789.6 820.9 L791 827.1 L792.4 833.4 L793.8 839.7 L795.2 845.9 L796.7 852.2 L798.1 858.4 L799.6 864.7 L801 870.9 L802.5 877.2 L804 883.4 L805.4 889.7 L806.9 895.9 L808.4 902.1 L809.9 908.4 L811.4 914.6 L812.9 920.9 L814.4 927.1 L815.9 933.3 L817.5 939.6 L819 945.8 L820.5 952.1 L822.1 958.3 L823.6 964.5 L825.2 970.8 L826.7 977 L828.3 983.2 L829.9 989.4 L831.4 995.7 L833 1001.9 L834.6 1008.1 L836.2 1014.3 L837.8 1020.6 L839.4 1026.8 L841 1033 L842.6 1039.2 L844.3 1045.4 L845.9 1051.7 L847.6 1057.9 L849.2 1064.1 L850.9 1070.3 L852.6 1076.5 L854.2 1082.7 L855.9 1088.9 L857.6 1095.1 L859.4 1101.3 L861.1 1107.5 L862.8 1113.6 L864.6 1119.8 L866.3 1126 L868.1 1132.2 L869.9 1138.3 L871.7 1144.5 L873.5 1150.7 L875.3 1156.8 L877.2 1163 L879 1169.1 L880.9 1175.3 L882.8 1181.4 L884.7 1187.5 L886.6 1193.6 L888.6 1199.8 L890.5 1205.9 L892.5 1212 L894.5 1218.1 L896.5 1224.2 L898.5 1230.3 L900.5 1236.4 L902.6 1242.4 L904.6 1248.5 L906.7 1254.6 L908.8 1260.6 L911 1266.7 L913.1 1272.7 L915.3 1278.8 L917.5 1284.8 L919.7 1290.8 L921.9 1296.8 L924.2 1302.8 L926.4 1308.8 L928.7 1314.8 L931.1 1320.8 L933.4 1326.8 L935.8 1332.7 L938.2 1338.7 L940.6 1344.6 L943 1350.6 L945.5 1356.5 L947.9 1362.4 L950.4 1368.3 L953 1374.2 L955.5 1380.1 L958.1 1386 L960.7 1391.8 L963.4 1397.7 L966 1403.5 L968.7 1409.4 L971.4 1415.2 L974.2 1421 L977 1426.8 L979.8 1432.5 L982.6 1438.3 L985.5 1444 L988.3 1449.8 L991.3 1455.5 L994.2 1461.2 L997.2 1466.9 L1000.2 1472.5 L1003.3 1478.2 L1006.3 1483.8 L1009.5 1489.4 L1012.6 1495 L1015.8 1500.6 L1019 1506.2 L1022.2 1511.7 L1025.5 1517.2 L1028.8 1522.7 L1032.2 1528.2 L1035.5 1533.7 L1039 1539.1 L1042.4 1544.5 L1045.9 1549.9 L1049.4 1555.3 L1053 1560.7 L1056.6 1566 L1060.2 1571.3 L1063.9 1576.6 L1067.6 1581.9 L1071.4 1587.1 L1075.2 1592.3 L1079 1597.4 L1082.9 1602.5 L1086.8 1607.6 L1090.8 1612.7 L1094.8 1617.6 L1098.9 1622.6 L1103 1627.5 L1107.2 1632.3 L1111.5 1637.1 L1115.8 1641.9 L1120.1 1646.5 L1124.5 1651.1 L1129 1655.7 L1133.5 1660.2 L1138.1 1664.6 L1142.7 1668.9 L1147.4 1673.2 L1152.2 1677.4 L1157 1681.5 L1161.9 1685.6 L1166.9 1689.5 L1172 1693.4 L1177.1 1697.2 L1182.2 1700.9 L1187.5 1704.5 L1192.8 1708.1 L1198.1 1711.5 L1203.6 1714.9 L1209.1 1718.2 L1214.6 1721.5 L1220.2 1724.6 L1225.8 1727.7 L1231.5 1730.7 L1237.2 1733.6 L1243 1736.5 L1248.8 1739.3 L1254.7 1742 L1260.6 1744.7 L1266.5 1747.3 L1272.5 1749.8 L1278.5 1752.3 L1284.5 1754.7 L1290.6 1757.1 L1296.7 1759.4 L1302.8 1761.6 L1308.9 1763.8 L1315.1 1765.9 L1321.3 1768 L1327.5 1770 L1333.7 1772 L1339.9 1773.9 L1346.1 1775.7 L1352.4 1777.6 L1358.6 1779.3 L1364.9 1781.1 L1371.1 1782.8 L1377.4 1784.4 L1383.6 1786 L1389.9 1787.6 L1396.2 1789.1 L1402.5 1790.6 L1408.7 1792 L1415 1793.4 L1421.3 1794.8 L1427.6 1796.1 L1433.9 1797.4 L1440.2 1798.6 L1446.5 1799.8 L1452.8 1801 L1459.1 1802.1 L1465.4 1803.2 L1471.7 1804.3 L1478 1805.4 L1484.4 1806.4 L1490.7 1807.3 L1497 1808.3 L1503.3 1809.2 L1509.7 1810.1 L1516 1811 L1522.3 1811.8 L1528.7 1812.6 L1535 1813.4 L1541.4 1814.1 L1547.7 1814.9 L1554.1 1815.6 L1560.4 1816.3 L1566.8 1816.9 L1573.1 1817.6 L1579.5 1818.2 L1585.9 1818.8 L1592.2 1819.3 L1598.6 1819.9 L1605 1820.4 L1611.4 1821 L1617.7 1821.5 L1624.1 1821.9 L1630.5 1822.4 L1636.9 1822.9 L1643.3 1823.3 L1649.6 1823.7 L1656 1824.1 L1662.4 1824.5 L1668.8 1824.9 L1675.2 1825.3 L1681.6 1825.6 L1688 1826 L1694.4 1826.3 L1700.8 1826.7 L1707.2 1827 L1713.6 1827.3 L1720 1827.6 L1726.4 1827.9 L1732.8 1828.2 L1739.2 1828.5 L1745.6 1828.8 L1752 1829.1 L1758.4 1829.4 L1764.8 1829.7 L1771.3 1830 L1777.7 1830.2 L1784.1 1830.5 L1790.5 1830.8 L1796.9 1831.1 L1803.3 1831.4 L1809.7 1831.7 L1816.2 1832 L1822.6 1832.3 L1829 1832.6 L1835.4 1832.9 L1841.8 1833.2 L1848.2 1833.5 L1854.7 1833.8 L1861.1 1834.2 L1867.5 1834.5 L1873.9 1834.8 L1880.3 1835.2 L1886.8 1835.5 L1893.2 1835.9 L1899.6 1836.2 L1906 1836.6 L1912.5 1836.9 L1918.9 1837.3 L1925.3 1837.6 L1931.7 1838 L1938.1 1838.4 L1944.6 1838.7 L1951 1839.1 L1957.4 1839.5 L1963.8 1839.8 L1970.3 1840.2 L1976.7 1840.6 L1983.1 1841 L1989.5 1841.3 L1996 1841.7 L2002.4 1842.1 L2008.8 1842.5 L2015.2 1842.8 L2021.6 1843.2 L2028.1 1843.6 L2034.5 1843.9 L2040.9 1844.3 L2047.3 1844.7 L2053.8 1845 L2060.2 1845.4 L2066.6 1845.8 L2073 1846.1 L2079.4 1846.5 L2085.9 1846.8 L2092.3 1847.2 L2098.7 1847.5 L2105.1 1847.9 L2111.5 1848.2 L2118 1848.5 L2124.4 1848.9 L2130.8 1849.2 L2137.2 1849.5 L2143.6 1849.8 L2150 1850.1 L2156.5 1850.5 L2162.9 1850.8 L2169.3 1851.1 L2175.7 1851.3 L2182.1 1851.6 L2188.5 1851.9 L2194.9 1852.2 L2201.3 1852.4 L2207.7 1852.7 L2214.2 1852.9 L2220.6 1853.2 L2227 1853.4 L2233.4 1853.6 L2239.8 1853.9 L2246.2 1854.1 L2252.6 1854.3 L2259 1854.5 L2265.4 1854.7 L2271.8 1854.8 L2278.2 1855" stroke="#6400b0" stroke-width="9.3" fill="none" stroke-linejoin="round" stroke-linecap="butt"/>
<path d="M590 1884.5 L594.6 1884.8 L598.7 1884.3 L602.3 1883 L605.6 1881 L608.4 1878.5 L610.9 1875.6 L613.2 1872.3 L615.2 1868.8 L616.9 1865 L618.6 1861.3 L620 1857.5 L621.4 1853.7 L622.6 1849.8 L623.7 1846 L624.8 1842.1 L625.7 1838.2 L626.5 1834.3 L627.3 1830.3 L628.1 1826.4 L628.7 1822.5 L629.4 1818.5 L630 1814.5 L630.6 1810.6 L631.1 1806.6 L631.7 1802.6 L632.3 1798.7 L632.8 1794.7 L633.4 1790.7 L633.9 1786.8 L634.5 1782.8 L635 1778.8 L635.5 1774.8 L636.1 1770.9 L636.6 1766.9 L637.1 1762.9 L637.6 1758.9 L638.1 1754.9 L638.5 1751 L639 1747 L639.5 1743 L640 1739 L640.4 1735 L640.9 1731.1 L641.3 1727.1 L641.8 1723.1 L642.2 1719.1 L642.6 1715.1 L643.1 1711.1 L643.5 1707.1 L643.9 1703.1 L644.3 1699.2 L644.7 1695.2 L645.1 1691.2 L645.5 1687.2 L645.9 1683.2 L646.3 1679.2 L646.7 1675.2 L647 1671.2 L647.4 1667.2 L647.8 1663.2 L648.1 1659.2 L648.5 1655.2 L648.9 1651.2 L649.2 1647.2 L649.6 1643.2 L649.9 1639.2 L650.2 1635.2 L650.6 1631.2 L650.9 1627.2 L651.2 1623.2 L651.6 1619.2 L651.9 1615.2 L652.2 1611.2 L652.5 1607.2 L652.8 1603.2 L653.1 1599.2 L653.4 1595.2 L653.7 1591.2 L654 1587.2 L654.3 1583.2 L654.6 1579.2 L654.9 1575.2 L655.2 1571.2 L655.5 1567.2 L655.8 1563.2 L656.1 1559.2 L656.4 1555.2 L656.7 1551.2 L657 1547.2 L657.2 1543.2 L657.5 1539.2 L657.8 1535.2 L658.1 1531.2 L658.4 1527.2 L658.6 1523.2 L658.9 1519.2 L659.2 1515.2 L659.5 1511.2 L659.8 1507.2 L660 1503.2 L660.3 1499.2 L660.6 1495.2 L660.9 1491.2 L661.2 1487.2 L661.4 1483.2 L661.7 1479.2 L662 1475.1 L662.3 1471.1 L662.6 1467.1 L662.9 1463.1 L663.2 1459.1 L663.4 1455.1 L663.7 1451.1 L664 1447.1 L664.3 1443.1 L664.6 1439.1 L664.9 1435.1 L665.2 1431.1 L665.5 1427.1 L665.8 1423.1 L666.1 1419.1 L666.5 1415.1 L666.8 1411.1 L667.1 1407.1 L667.4 1403.2 L667.7 1399.2 L668.1 1395.2 L668.4 1391.2 L668.7 1387.2 L669.1 1383.2 L669.4 1379.2 L669.8 1375.2 L670.1 1371.2 L670.5 1367.2 L670.8 1363.2 L671.2 1359.2 L671.6 1355.2 L671.9 1351.2 L672.3 1347.3 L672.7 1343.3 L673.1 1339.3 L673.5 1335.3 L673.9 1331.3 L674.3 1327.3 L674.7 1323.3 L675.1 1319.4 L675.5 1315.4 L676 1311.4 L676.4 1307.4 L676.9 1303.4 L677.3 1299.4 L677.8 1295.5 L678.3 1291.5 L678.8 1287.5 L679.3 1283.5 L679.8 1279.5 L680.3 1275.6 L680.8 1271.6 L681.4 1267.6 L681.9 1263.6 L682.5 1259.7 L683.1 1255.7 L683.7 1251.7 L684.3 1247.7 L685 1243.8 L685.6 1239.8 L686.3 1235.8 L686.9 1231.9 L687.6 1227.9 L688.4 1223.9 L689.1 1220 L689.8 1216 L690.7 1212 L691.6 1208 L692.9 1204.1 L694.4 1200.1 L696.4 1196.1 L698.9 1192.2 L701.7 1188.9 L704.6 1186.8 L707.7 1186.6 L710.7 1188.1 L713.6 1190.7 L716.4 1193.5 L719.1 1196.5 L721.7 1199.4 L724.3 1202.5 L726.8 1205.6 L729.2 1208.7 L731.5 1212 L733.8 1215.2 L736 1218.5 L738.1 1221.9 L740.2 1225.3 L742.3 1228.7 L744.3 1232.2 L746.3 1235.7 L748.3 1239.2 L750.2 1242.7 L752.1 1246.2 L754 1249.8 L755.9 1253.4 L757.8 1256.9 L759.7 1260.5 L761.6 1264.1 L763.6 1267.6 L765.5 1271.2 L767.5 1274.7 L769.4 1278.2 L771.4 1281.7 L773.4 1285.2 L775.4 1288.7 L777.5 1292.2 L779.5 1295.6 L781.6 1299 L783.7 1302.5 L785.8 1305.9 L788 1309.3 L790.1 1312.6 L792.3 1316 L794.5 1319.3 L796.7 1322.7 L799 1326 L801.3 1329.3 L803.5 1332.5 L805.9 1335.8 L808.2 1339 L810.6 1342.2 L813 1345.4 L815.4 1348.6 L817.8 1351.8 L820.2 1354.9 L822.7 1358 L825.2 1361.1 L827.7 1364.2 L830.2 1367.3 L832.7 1370.4 L835.3 1373.5 L837.8 1376.6 L840.3 1379.7 L842.9 1382.8 L845.4 1385.9 L848 1389 L850.5 1392.1 L853 1395.2 L855.5 1398.3 L858 1401.4 L860.5 1404.6 L863 1407.8 L865.5 1410.9 L868 1414.1 L870.5 1417.3 L873 1420.5 L875.4 1423.7 L877.9 1426.8 L880.4 1430 L883 1433.1 L885.5 1436.3 L888.1 1439.4 L890.7 1442.4 L893.3 1445.5 L895.9 1448.5 L898.6 1451.4 L901.3 1454.4 L904.1 1457.3 L906.9 1460.1 L909.7 1462.9 L912.5 1465.7 L915.4 1468.4 L918.4 1471.1 L921.3 1473.8 L924.3 1476.5 L927.3 1479.1 L930.3 1481.7 L933.4 1484.2 L936.4 1486.8 L939.5 1489.3 L942.7 1491.7 L945.8 1494.2 L949 1496.6 L952.2 1499.1 L955.4 1501.5 L958.6 1503.8 L961.8 1506.2 L965.1 1508.5 L968.4 1510.9 L971.6 1513.2 L974.9 1515.5 L978.2 1517.8 L981.5 1520 L984.9 1522.3 L988.2 1524.6 L991.5 1526.8 L994.9 1529 L998.2 1531.3 L1001.6 1533.5 L1004.9 1535.8 L1008.3 1538 L1011.6 1540.2 L1015 1542.4 L1018.4 1544.6 L1021.8 1546.8 L1025.2 1549 L1028.6 1551.1 L1032 1553.3 L1035.4 1555.4 L1038.8 1557.5 L1042.2 1559.6 L1045.7 1561.6 L1049.1 1563.7 L1052.6 1565.7 L1056.1 1567.7 L1059.6 1569.6 L1063.1 1571.6 L1066.6 1573.5 L1070.2 1575.3 L1073.7 1577.2 L1077.3 1579 L1080.9 1580.7 L1084.5 1582.5 L1088.1 1584.2 L1091.7 1585.9 L1095.4 1587.5 L1099 1589.1 L1102.7 1590.7 L1106.4 1592.3 L1110.1 1593.8 L1113.8 1595.4 L1117.5 1596.8 L1121.2 1598.3 L1124.9 1599.8 L1128.7 1601.2 L1132.4 1602.6 L1136.2 1604 L1140 1605.3 L1143.7 1606.7 L1147.5 1608 L1151.3 1609.3 L1155.1 1610.6 L1158.9 1611.9 L1162.7 1613.1 L1166.5 1614.4 L1170.3 1615.6 L1174.1 1616.8 L1177.9 1618 L1181.8 1619.2 L1185.6 1620.4 L1189.4 1621.6 L1193.2 1622.7 L1197.1 1623.8 L1200.9 1625 L1204.8 1626.1 L1208.6 1627.2 L1212.5 1628.3 L1216.3 1629.4 L1220.2 1630.4 L1224 1631.5 L1227.9 1632.5 L1231.8 1633.6 L1235.6 1634.6 L1239.5 1635.6 L1243.4 1636.6 L1247.2 1637.6 L1251.1 1638.6 L1255 1639.5 L1258.9 1640.5 L1262.8 1641.4 L1266.7 1642.4 L1270.6 1643.3 L1274.5 1644.2 L1278.4 1645.1 L1282.3 1646 L1286.2 1646.9 L1290.1 1647.8 L1294 1648.6 L1297.9 1649.5 L1301.8 1650.4 L1305.7 1651.2 L1309.6 1652 L1313.6 1652.9 L1317.5 1653.7 L1321.4 1654.5 L1325.3 1655.3 L1329.3 1656.1 L1333.2 1656.8 L1337.1 1657.6 L1341.1 1658.4 L1345 1659.1 L1349 1659.9 L1352.9 1660.6 L1356.8 1661.4 L1360.8 1662.1 L1364.7 1662.8 L1368.7 1663.5 L1372.6 1664.3 L1376.6 1665 L1380.5 1665.7 L1384.5 1666.3 L1388.4 1667 L1392.4 1667.7 L1396.4 1668.4 L1400.3 1669 L1404.3 1669.7 L1408.3 1670.4 L1412.2 1671 L1416.2 1671.6 L1420.2 1672.3 L1424.1 1672.9 L1428.1 1673.5 L1432.1 1674.2 L1436 1674.8 L1440 1675.4 L1444 1676 L1448 1676.6 L1452 1677.2 L1455.9 1677.8 L1459.9 1678.4 L1463.9 1679 L1467.9 1679.6 L1471.9 1680.2 L1475.8 1680.7 L1479.8 1681.3 L1483.8 1681.9 L1487.8 1682.5 L1491.8 1683 L1495.8 1683.6 L1499.7 1684.1 L1503.7 1684.7 L1507.7 1685.3 L1511.7 1685.8 L1515.7 1686.4 L1519.7 1686.9 L1523.7 1687.4 L1527.7 1688 L1531.6 1688.5 L1535.6 1689.1 L1539.6 1689.6 L1543.6 1690.2 L1547.6 1690.7 L1551.6 1691.2 L1555.6 1691.8 L1559.6 1692.3 L1563.6 1692.8 L1567.6 1693.4 L1571.5 1693.9 L1575.5 1694.4 L1579.5 1695 L1583.5 1695.5 L1587.5 1696 L1591.5 1696.6 L1595.5 1697.1 L1599.5 1697.6 L1603.5 1698.2 L1607.4 1698.7 L1611.4 1699.2 L1615.4 1699.8 L1619.4 1700.3 L1623.4 1700.8 L1627.4 1701.4 L1631.4 1701.9 L1635.3 1702.5 L1639.3 1703 L1643.3 1703.6 L1647.3 1704.1 L1651.3 1704.7 L1655.2 1705.2 L1659.2 1705.8 L1663.2 1706.3 L1667.2 1706.9 L1671.1 1707.4 L1675.1 1708 L1679.1 1708.5 L1683.1 1709.1 L1687 1709.6 L1691 1710.2 L1695 1710.8 L1699 1711.3 L1702.9 1711.9 L1706.9 1712.5 L1710.9 1713 L1714.9 1713.6 L1718.8 1714.2 L1722.8 1714.7 L1726.8 1715.3 L1730.7 1715.9 L1734.7 1716.5 L1738.7 1717 L1742.6 1717.6 L1746.6 1718.2 L1750.6 1718.8 L1754.5 1719.3 L1758.5 1719.9 L1762.5 1720.5 L1766.4 1721.1 L1770.4 1721.7 L1774.4 1722.2 L1778.3 1722.8 L1782.3 1723.4 L1786.3 1724 L1790.2 1724.6 L1794.2 1725.2 L1798.1 1725.8 L1802.1 1726.3 L1806.1 1726.9 L1810 1727.5 L1814 1728.1 L1817.9 1728.7 L1821.9 1729.3 L1825.9 1729.9 L1829.8 1730.5 L1833.8 1731.1 L1837.8 1731.6 L1841.7 1732.2 L1845.7 1732.8 L1849.6 1733.4 L1853.6 1734 L1857.5 1734.6 L1861.5 1735.2 L1865.5 1735.8 L1869.4 1736.4 L1873.4 1737 L1877.3 1737.6 L1881.3 1738.2 L1885.3 1738.8 L1889.2 1739.4 L1893.2 1740 L1897.1 1740.6 L1901.1 1741.2 L1905 1741.8 L1909 1742.4 L1913 1742.9 L1916.9 1743.5 L1920.9 1744.1 L1924.8 1744.7 L1928.8 1745.3 L1932.8 1745.9 L1936.7 1746.5 L1940.7 1747.1 L1944.6 1747.7 L1948.6 1748.3 L1952.5 1748.9 L1956.5 1749.5 L1960.5 1750.1 L1964.4 1750.7 L1968.4 1751.3 L1972.3 1751.9 L1976.3 1752.5 L1980.3 1753.1 L1984.2 1753.7 L1988.2 1754.3 L1992.1 1754.9 L1996.1 1755.5 L2000 1756.1 L2004 1756.7 L2008 1757.2 L2011.9 1757.8 L2015.9 1758.4 L2019.8 1759 L2023.8 1759.6 L2027.8 1760.2 L2031.7 1760.8 L2035.7 1761.4 L2039.7 1762 L2043.6 1762.6 L2047.6 1763.2 L2051.5 1763.7 L2055.5 1764.3 L2059.5 1764.9 L2063.4 1765.5 L2067.4 1766.1 L2071.4 1766.7 L2075.3 1767.2 L2079.3 1767.8 L2083.3 1768.4 L2087.2 1769 L2091.2 1769.6 L2095.2 1770.2 L2099.1 1770.7 L2103.1 1771.3 L2107.1 1771.9 L2111 1772.5 L2115 1773 L2119 1773.6 L2122.9 1774.2 L2126.9 1774.8 L2130.9 1775.3 L2134.8 1775.9 L2138.8 1776.5 L2142.8 1777 L2146.8 1777.6 L2150.7 1778.2 L2154.7 1778.7 L2158.7 1779.3 L2162.7 1779.9 L2166.6 1780.4 L2170.6 1781 L2174.6 1781.5 L2178.6 1782.1 L2182.5 1782.7 L2186.5 1783.2 L2190.5 1783.8 L2194.5 1784.3 L2198.5 1784.9 L2202.4 1785.4 L2206.4 1786 L2210.4 1786.5 L2214.4 1787.1 L2218.4 1787.6 L2222.3 1788.2 L2226.3 1788.7 L2230.3 1789.2 L2234.3 1789.8 L2238.3 1790.3 L2242.3 1790.8 L2246.3 1791.4 L2250.3 1791.9 L2254.2 1792.4 L2258.2 1793 L2262.2 1793.5 L2266.2 1794 L2270.2 1794.6 L2274.2 1795.1 L2278.2 1795.6" stroke="#ff8000" stroke-width="9.3" fill="none" stroke-linejoin="round" stroke-linecap="butt"/>
<path d="M572 1884.5 L579.7 1884 L586.4 1882.2 L592 1879.4 L596.7 1875.5 L600.7 1870.9 L604 1865.5 L606.7 1859.7 L609 1853.4 L611 1846.9 L612.8 1840.2 L614.4 1833.6 L615.9 1826.9 L617.3 1820.3 L618.6 1813.6 L619.8 1807 L620.9 1800.3 L621.9 1793.6 L622.8 1787 L623.6 1780.3 L624.3 1773.6 L625 1767 L625.7 1760.3 L626.2 1753.6 L626.8 1746.9 L627.3 1740.3 L627.7 1733.6 L628.1 1726.9 L628.5 1720.2 L628.9 1713.6 L629.3 1706.9 L629.6 1700.2 L630 1693.5 L630.3 1686.9 L630.7 1680.2 L631 1673.5 L631.3 1666.8 L631.7 1660.1 L632 1653.5 L632.3 1646.8 L632.7 1640.1 L633 1633.4 L633.3 1626.7 L633.6 1620 L633.9 1613.4 L634.2 1606.7 L634.5 1600 L634.8 1593.3 L635.1 1586.6 L635.4 1579.9 L635.7 1573.2 L636 1566.6 L636.3 1559.9 L636.6 1553.2 L636.9 1546.5 L637.2 1539.8 L637.4 1533.1 L637.7 1526.4 L638 1519.7 L638.2 1513 L638.5 1506.4 L638.8 1499.7 L639 1493 L639.3 1486.3 L639.6 1479.6 L639.8 1472.9 L640.1 1466.2 L640.3 1459.5 L640.6 1452.8 L640.8 1446.1 L641.1 1439.4 L641.3 1432.7 L641.5 1426 L641.8 1419.4 L642 1412.7 L642.2 1406 L642.5 1399.3 L642.7 1392.6 L642.9 1385.9 L643.2 1379.2 L643.4 1372.5 L643.6 1365.8 L643.8 1359.1 L644.1 1352.4 L644.3 1345.7 L644.5 1339 L644.7 1332.3 L644.9 1325.6 L645.2 1318.9 L645.4 1312.2 L645.6 1305.5 L645.8 1298.8 L646 1292.1 L646.2 1285.4 L646.4 1278.7 L646.6 1272 L646.8 1265.3 L647 1258.6 L647.2 1251.9 L647.4 1245.2 L647.6 1238.5 L647.8 1231.8 L648 1225.2 L648.2 1218.5 L648.4 1211.8 L648.6 1205.1 L648.8 1198.4 L649 1191.7 L649.2 1185 L649.4 1178.3 L649.6 1171.6 L649.8 1164.9 L650 1158.2 L650.2 1151.5 L650.4 1144.8 L650.6 1138.1 L650.8 1131.4 L651 1124.7 L651.2 1118 L651.4 1111.3 L651.6 1104.6 L651.8 1097.9 L651.9 1091.2 L652.1 1084.5 L652.3 1077.8 L652.5 1071.1 L652.7 1064.4 L652.9 1057.7 L653.1 1051 L653.3 1044.3 L653.5 1037.6 L653.7 1030.9 L653.9 1024.2 L654.1 1017.5 L654.3 1010.8 L654.5 1004.1 L654.7 997.4 L654.9 990.7 L655.1 984 L655.3 977.3 L655.4 970.6 L655.6 963.9 L655.8 957.2 L656 950.5 L656.2 943.8 L656.4 937.1 L656.6 930.5 L656.8 923.8 L657 917.1 L657.2 910.4 L657.4 903.7 L657.6 897 L657.8 890.3 L658 883.6 L658.2 876.9 L658.4 870.2 L658.6 863.5 L658.8 856.8 L659 850.1 L659.2 843.4 L659.4 836.7 L659.6 830 L659.8 823.3 L660 816.6 L660.2 809.9 L660.4 803.2 L660.6 796.5 L660.8 789.8 L661 783.1 L661.2 776.5 L661.4 769.8 L661.6 763.1 L661.8 756.4 L662 749.7 L662.2 743 L662.4 736.3 L662.6 729.6 L662.8 722.9 L663 716.2 L663.2 709.5 L663.4 702.8 L663.7 696.1 L663.9 689.4 L664.1 682.7 L664.3 676 L664.5 669.3 L664.7 662.6 L664.9 656 L665.1 649.3 L665.3 642.6 L665.5 635.9 L665.7 629.2 L665.9 622.5 L666.1 615.8 L666.4 609.1 L666.6 602.4 L666.8 595.7 L667 589 L667.2 582.3 L667.4 575.6 L667.6 568.9 L667.8 562.2 L668 555.5 L668.3 548.9 L668.5 542.2 L668.7 535.5 L668.9 528.8 L669.1 522.1 L669.3 515.4 L669.6 508.7 L669.8 502 L670 495.3 L670.2 488.6 L670.4 481.9 L670.6 475.2 L670.9 468.5 L671.1 461.8 L671.3 455.1 L671.5 448.5 L671.7 441.8 L672 435.1 L672.2 428.4 L672.4 421.7 L672.6 415 L672.9 408.3 L673.1 401.6 L673.3 394.9 L673.5 388.2 L673.8 381.5 L674 374.8 L674.2 368.1 L674.4 361.5 L674.7 354.8 L674.9 348.1 L675.1 341.4 L675.4 334.7 L675.6 328 L675.8 321.3 L676.1 314.6 L676.3 307.9 L676.6 301.2 L676.8 294.5 L677.1 287.8 L677.4 281.1 L677.6 274.4 L677.9 267.8 L678.2 261.1 L678.5 254.4 L678.8 247.7 L679.1 241 L679.5 234.3 L679.8 227.6 L680.1 220.9 L680.5 214.2 L680.8 207.5 L681.2 200.8 L681.6 194.1 L682 187.4 L682.4 180.7 L682.8 174 L683.2 167.3 L683.7 160.6 L684.2 153.9 L684.6 147.2 L685.1 140.5 L685.6 133.8 L686.1 127.1 L686.7 120.4 L687.3 113.7 L687.9 107 L688.6 100.3 L689.3 93.7 L690.2 87.1 L691.2 80.5 L692.3 74 L693.6 67.5 L695.1 61.1 L697 54.8 L699.4 48.8 L702.6 43 L705.4 48.6 L707.8 54.3 L709.9 60.1 L711.8 66 L713.3 72 L714.8 78 L716 84.1 L717.3 90.2 L718.4 96.3 L719.6 102.4 L720.7 108.5 L721.8 114.6 L722.8 120.7 L723.9 126.8 L724.9 133 L725.9 139.1 L726.9 145.2 L727.8 151.4 L728.7 157.5 L729.7 163.7 L730.6 169.9 L731.5 176 L732.3 182.2 L733.2 188.4 L734.1 194.5 L734.9 200.7 L735.8 206.9 L736.6 213.1 L737.4 219.2 L738.3 225.4 L739.1 231.6 L740 237.7 L740.8 243.9 L741.7 250.1 L742.5 256.3 L743.4 262.4 L744.3 268.6 L745.1 274.8 L746 280.9 L746.9 287.1 L747.8 293.3 L748.7 299.4 L749.6 305.6 L750.5 311.7 L751.4 317.9 L752.3 324.1 L753.2 330.2 L754.1 336.4 L755 342.5 L756 348.7 L756.9 354.8 L757.8 361 L758.8 367.1 L759.7 373.3 L760.7 379.4 L761.6 385.6 L762.6 391.7 L763.6 397.9 L764.5 404 L765.5 410.2 L766.5 416.3 L767.4 422.5 L768.4 428.6 L769.4 434.7 L770.4 440.9 L771.3 447 L772.3 453.2 L773.3 459.3 L774.3 465.5 L775.3 471.6 L776.3 477.7 L777.3 483.9 L778.3 490 L779.3 496.2 L780.3 502.3 L781.3 508.4 L782.3 514.6 L783.3 520.7 L784.3 526.8 L785.3 533 L786.3 539.1 L787.3 545.3 L788.4 551.4 L789.4 557.5 L790.4 563.7 L791.4 569.8 L792.4 576 L793.4 582.1 L794.4 588.2 L795.5 594.4 L796.5 600.5 L797.5 606.7 L798.5 612.8 L799.5 618.9 L800.5 625.1 L801.6 631.2 L802.6 637.4 L803.6 643.5 L804.6 649.6 L805.6 655.8 L806.6 661.9 L807.7 668.1 L808.7 674.2 L809.7 680.3 L810.7 686.5 L811.8 692.6 L812.8 698.8 L813.8 704.9 L814.9 711 L815.9 717.2 L816.9 723.3 L818 729.5 L819 735.6 L820.1 741.7 L821.1 747.9 L822.2 754 L823.3 760.1 L824.3 766.3 L825.4 772.4 L826.5 778.5 L827.5 784.7 L828.6 790.8 L829.7 796.9 L830.8 803.1 L831.9 809.2 L833 815.3 L834.1 821.4 L835.3 827.6 L836.4 833.7 L837.5 839.8 L838.7 845.9 L839.8 852 L840.9 858.2 L842.1 864.3 L843.3 870.4 L844.4 876.5 L845.6 882.6 L846.8 888.7 L848 894.8 L849.2 900.9 L850.4 907 L851.7 913.1 L852.9 919.2 L854.1 925.3 L855.4 931.4 L856.6 937.5 L857.9 943.6 L859.2 949.7 L860.5 955.8 L861.8 961.9 L863.1 967.9 L864.4 974 L865.7 980.1 L867.1 986.2 L868.4 992.2 L869.8 998.3 L871.2 1004.4 L872.5 1010.4 L873.9 1016.5 L875.4 1022.5 L876.8 1028.6 L878.2 1034.6 L879.7 1040.7 L881.1 1046.7 L882.6 1052.8 L884.1 1058.8 L885.6 1064.8 L887.1 1070.9 L888.6 1076.9 L890.1 1082.9 L891.6 1089 L893.2 1095 L894.7 1101 L896.3 1107 L897.9 1113.1 L899.5 1119.1 L901 1125.1 L902.6 1131.1 L904.3 1137.1 L905.9 1143.1 L907.5 1149.1 L909.1 1155.1 L910.7 1161.1 L912.4 1167.1 L914 1173.1 L915.7 1179.1 L917.3 1185.1 L919 1191.1 L920.7 1197.1 L922.3 1203.1 L924 1209.1 L925.7 1215.1 L927.4 1221.1 L929 1227.1 L930.7 1233.1 L932.4 1239.1 L934.1 1245.1 L935.8 1251.1 L937.5 1257.1 L939.3 1263 L941 1269 L942.8 1275 L944.5 1281 L946.3 1286.9 L948.1 1292.9 L949.9 1298.9 L951.7 1304.8 L953.5 1310.8 L955.4 1316.7 L957.2 1322.6 L959.1 1328.6 L961 1334.5 L962.9 1340.4 L964.9 1346.3 L966.9 1352.2 L968.9 1358.1 L970.9 1364 L972.9 1369.8 L975 1375.7 L977.1 1381.5 L979.2 1387.4 L981.4 1393.2 L983.6 1399 L985.8 1404.8 L988.1 1410.6 L990.3 1416.4 L992.6 1422.2 L995 1428 L997.3 1433.7 L999.7 1439.5 L1002.1 1445.2 L1004.5 1451 L1007 1456.7 L1009.4 1462.4 L1011.9 1468.1 L1014.3 1473.8 L1016.8 1479.5 L1019.3 1485.3 L1021.8 1491 L1024.4 1496.7 L1026.9 1502.3 L1029.4 1508 L1031.9 1513.7 L1034.5 1519.4 L1037 1525.1 L1039.5 1530.8 L1042.1 1536.5 L1044.6 1542.2 L1047.2 1547.8 L1049.8 1553.5 L1052.5 1559.1 L1055.1 1564.7 L1057.9 1570.3 L1060.6 1575.8 L1063.5 1581.4 L1066.3 1586.9 L1069.3 1592.3 L1072.3 1597.8 L1075.3 1603.2 L1078.4 1608.5 L1081.6 1613.9 L1084.7 1619.2 L1087.9 1624.5 L1091.1 1629.8 L1094.4 1635 L1097.6 1640.3 L1100.9 1645.5 L1104.3 1650.7 L1107.7 1655.9 L1111.2 1661 L1114.7 1666.1 L1118.3 1671.1 L1122.1 1676.1 L1125.9 1681.1 L1129.8 1686 L1133.7 1690.9 L1137.8 1695.7 L1141.9 1700.5 L1146.1 1705.2 L1150.4 1709.9 L1154.7 1714.5 L1159.1 1719 L1163.6 1723.5 L1168.1 1727.9 L1172.7 1732.3 L1177.4 1736.6 L1182.1 1740.8 L1186.8 1744.9 L1191.6 1749 L1196.5 1753 L1201.4 1756.9 L1206.3 1760.7 L1211.3 1764.5 L1216.3 1768.2 L1221.4 1771.8 L1226.5 1775.3 L1231.6 1778.7 L1236.8 1782.1 L1242 1785.4 L1247.2 1788.6 L1252.5 1791.8 L1257.9 1794.9 L1263.2 1797.9 L1268.6 1800.8 L1274 1803.7 L1279.5 1806.5 L1285 1809.2 L1290.5 1811.9 L1296.1 1814.5 L1301.7 1817 L1307.3 1819.5 L1312.9 1821.9 L1318.6 1824.3 L1324.3 1826.6 L1330 1828.8 L1335.8 1831 L1341.6 1833.1 L1347.4 1835.1 L1353.2 1837.1 L1359.1 1839 L1364.9 1840.9 L1370.8 1842.7 L1376.8 1844.5 L1382.7 1846.2 L1388.7 1847.8 L1394.7 1849.4 L1400.7 1851 L1406.7 1852.5 L1412.7 1854 L1418.8 1855.4 L1424.9 1856.7 L1431 1858 L1437.1 1859.3 L1443.2 1860.5 L1449.3 1861.7 L1455.5 1862.8 L1461.7 1863.9 L1467.8 1864.9 L1474 1865.9 L1480.2 1866.8 L1486.4 1867.8 L1492.7 1868.6 L1498.9 1869.5 L1505.1 1870.3 L1511.4 1871 L1517.6 1871.8 L1523.9 1872.4 L1530.1 1873.1 L1536.4 1873.7 L1542.7 1874.3 L1549 1874.9 L1555.2 1875.4 L1561.5 1875.9 L1567.8 1876.3 L1574.1 1876.8 L1580.4 1877.2 L1586.7 1877.5 L1592.9 1877.9 L1599.2 1878.2 L1605.5 1878.5 L1611.8 1878.8 L1618.1 1879 L1624.3 1879.3 L1630.6 1879.5 L1636.9 1879.6 L1643.1 1879.8 L1649.4 1879.9 L1655.6 1880.1 L1661.8 1880.2 L1668.1 1880.3 L1674.3 1880.3 L1680.5 1880.4 L1686.7 1880.4 L1692.9 1880.5 L1699 1880.5 L1705.2 1880.5 L1711.3 1880.5 L1717.5 1880.4 L1723.6 1880.4 L1729.7 1880.4 L1735.8 1880.3 L1741.8 1880.3 L1747.9 1880.2" stroke="#f00000" stroke-width="9.3" fill="none" stroke-linejoin="round" stroke-linecap="butt"/>
</g>
<rect x="256.6" y="40.3" width="8.6" height="1846.9" fill="#000"/>
<rect x="257" y="1879.4" width="2029" height="7.8" fill="#000"/>
<path d="M265 1582.2H308.2M265 1279.1H308.2M265 976H308.2M265 672.8H308.2M265 369.7H308.2M265 66.5H308.2M587.5 1880V1836.6M926.5 1880V1836.6M1265.4 1880V1836.6M1604.4 1880V1836.6M1943.4 1880V1836.6M2282.4 1880V1836.6" stroke="#000" stroke-width="8.5" fill="none"/>
<path d="M265 1824.8H291M265 1764.1H291M265 1703.5H291M265 1642.9H291M265 1521.6H291M265 1461H291M265 1400.4H291M265 1339.7H291M265 1218.5H291M265 1157.8H291M265 1097.2H291M265 1036.6H291M265 915.3H291M265 854.7H291M265 794.1H291M265 733.4H291M265 612.2H291M265 551.5H291M265 490.9H291M265 430.3H291M265 309H291M265 248.4H291M265 187.8H291M265 127.1H291M333.2 1880V1857M418 1880V1857M502.7 1880V1857M672.2 1880V1857M757 1880V1857M841.7 1880V1857M1011.2 1880V1857M1096 1880V1857M1180.7 1880V1857M1350.2 1880V1857M1434.9 1880V1857M1519.7 1880V1857M1689.2 1880V1857M1773.9 1880V1857M1858.7 1880V1857M2028.1 1880V1857M2112.9 1880V1857M2197.6 1880V1857" stroke="#4a4a4a" stroke-width="3" fill="none"/>
<text x="234" y="1908.4" font-size="72.5" text-anchor="end" fill="#000">0</text>
<text x="234" y="1607" font-size="72.5" text-anchor="end" fill="#000">0.5</text>
<text x="234" y="1303.9" font-size="72.5" text-anchor="end" fill="#000">1</text>
<text x="234" y="1000.8" font-size="72.5" text-anchor="end" fill="#000">1.5</text>
<text x="234" y="697.6" font-size="72.5" text-anchor="end" fill="#000">2</text>
<text x="234" y="394.5" font-size="72.5" text-anchor="end" fill="#000">2.5</text>
<text x="234" y="91.3" font-size="72.5" text-anchor="end" fill="#000">3</text>
<text x="587.5" y="1958.2" font-size="72.5" text-anchor="middle" fill="#000">0.2</text>
<text x="926.5" y="1958.2" font-size="72.5" text-anchor="middle" fill="#000">0.4</text>
<text x="1265.4" y="1958.2" font-size="72.5" text-anchor="middle" fill="#000">0.6</text>
<text x="1604.4" y="1958.2" font-size="72.5" text-anchor="middle" fill="#000">0.8</text>
<text x="1943.4" y="1958.2" font-size="72.5" text-anchor="middle" fill="#000">1</text>
<text x="2282.4" y="1958.2" font-size="72.5" text-anchor="middle" fill="#000">1.2</text>
<text x="1273.6" y="2038.7" font-size="85" font-weight="bold" text-anchor="middle" fill="#000">L/S</text>
<text transform="translate(99.8 961) rotate(-90)" x="0" y="0" font-size="86" font-weight="bold" text-anchor="middle" fill="#000">Uranium concentration, [g/L]</text>
</svg>
</body></html>
